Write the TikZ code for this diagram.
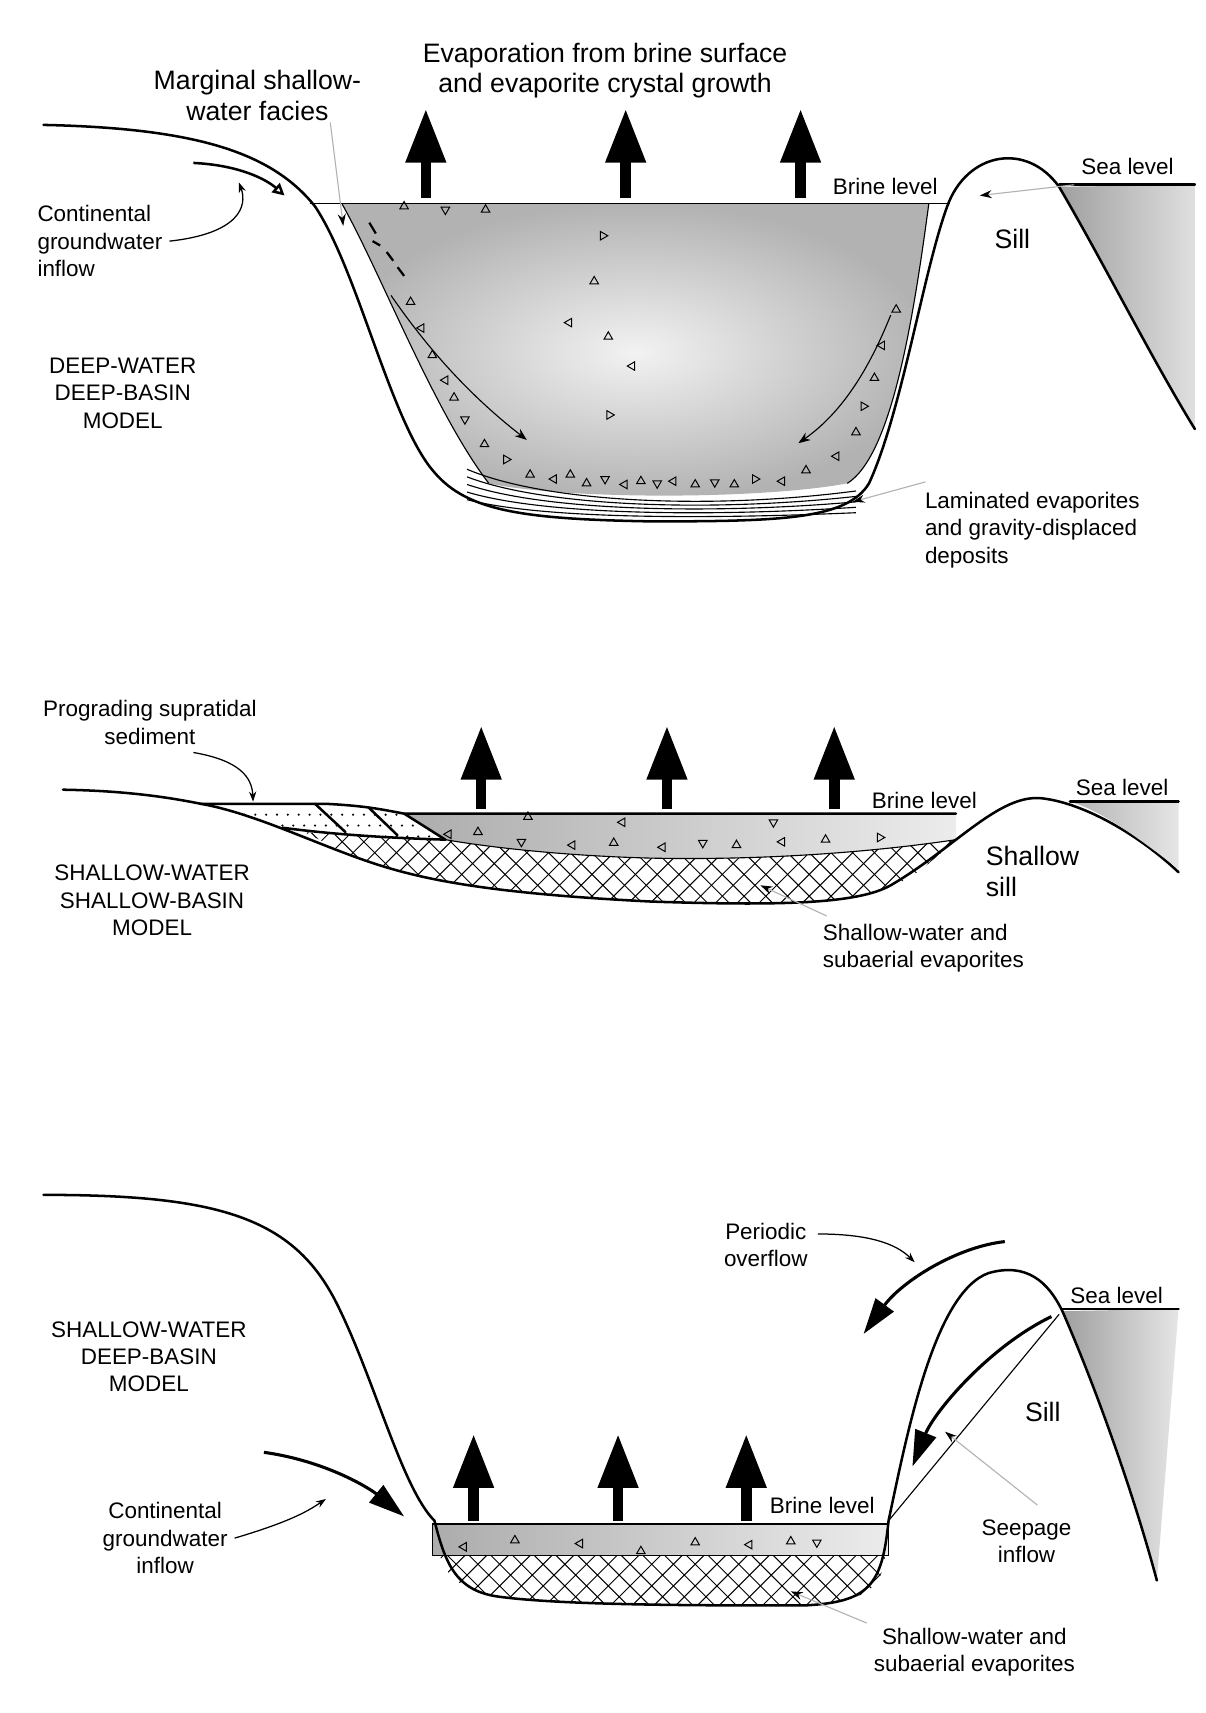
\documentclass[tikz,border=0pt]{standalone}
\usepackage{fontspec}
\setmainfont{Liberation Sans}
\usetikzlibrary{arrows.meta,shapes.geometric,calc}
\tikzset{
  lbl/.style={font=\fontsize{16}{19.5}\selectfont, align=center, inner sep=1pt},
  lbll/.style={lbl, align=left, anchor=west},
  big/.style={font=\fontsize{19}{22}\selectfont, align=center, inner sep=1pt},
  ground/.style={line width=1.8pt, line cap=round},
  thin/.style={line width=0.8pt},
  evap/.style={line width=7.5pt, -{Triangle[length=1.35cm,width=0.95cm]}},
  flow/.style={line width=2.2pt, -{Triangle[length=0.6cm,width=0.42cm]}},
  small/.style={line width=0.9pt, -{Stealth[length=2.5mm,width=1.8mm]}},
  pointer/.style={draw=gray!60, line width=0.8pt},
  tri/.style={regular polygon, regular polygon sides=3, draw, line width=0.7pt,
    inner sep=0pt, minimum size=7pt},
  hatch/.style={line width=0.7pt},
}
\begin{document}
\begin{tikzpicture}[x=0.0272cm, y=-0.0272cm]
  \useasboundingbox (0,0) rectangle (1110,1577);

  % ---------- deep-water deep-basin ----------
  \shade[inner color=gray!10, outer color=gray!60]
    (315,188) -- (855,188) .. controls (840,300) and (820,420) .. (780,445)
    .. controls (700,460) and (520,460) .. (450,445)
    .. controls (400,380) and (350,250) .. (315,188) -- cycle;
  \draw[thin] (315,188) .. controls (350,250) and (400,380) .. (450,445);
  \draw[thin] (855,188) .. controls (840,300) and (820,420) .. (780,445);
  \draw[thin] (285,187) -- (875,187);
  \foreach \i in {0,...,4}
    \draw[thin] (430,{432+\i*7}) .. controls (500,{462+\i*4}) and (650,{470+\i*2}) .. (788,{452+\i*5});
  \shade[left color=gray!75, right color=gray!25]
    (975,172) -- (1100,170) -- (1100,395)
    .. controls (1060,330) and (1015,240) .. (975,172) -- cycle;
  \draw[ground] (40,115) .. controls (180,118) and (250,140) .. (290,190)
    .. controls (330,250) and (360,390) .. (400,435)
    .. controls (430,470) and (480,478) .. (600,480)
    .. controls (720,480) and (780,478) .. (800,445)
    .. controls (830,380) and (850,250) .. (872,190)
    .. controls (890,140) and (945,130) .. (975,172)
    .. controls (1015,240) and (1060,330) .. (1100,395);
  \draw[ground] (975,170) -- (1100,170);
  \foreach \x/\y/\r in {372/190/0,410/193/180,447/193/0,555/217/30,547/259/0,
    524/297/90,560/310/0,582/337/90,561/382/30,378/278/0,388/302/90,
    398/327/0,410/350/90,418/366/0,428/386/180,446/409/0,466/423/30,
    488/437/0,510/441/90,525/437/0,540/445/0,557/441/180,575/446/90,
    590/443/0,605/445/180,620/443/90,640/446/0,658/444/180,676/446/0,
    695/441/30,720/443/90,742/433/0,770/420/90,788/398/0,795/374/30,
    805/348/0,812/318/90,825/285/0}
    \node[tri, rotate=\r] at (\x,\y) {};
  \foreach \xa/\ya/\xb/\yb in {340/205/346/215,356/232/362/240,366/246/372/254,343/222/350/226}
    \draw[line width=1.6pt] (\xa,\ya) -- (\xb,\yb);
  \draw[thin, -{Stealth[length=3mm]}] (360,272) .. controls (400,330) and (440,370) .. (485,405);
  \draw[thin, -{Stealth[length=3mm]}] (820,290) .. controls (800,340) and (775,380) .. (735,408);
  \foreach \x in {392,576,737}
    \draw[evap] (\x,182) -- (\x,100);
  \node[big] (evtxt) at (557,65) {Evaporation from brine surface\\and evaporite crystal growth};
  \node[big] (margtxt) at (237,88) {Marginal shallow-\\water facies};
  \node[lbll] (cgw1) at (33,222) {Continental\\groundwater\\inflow};
  \node[lbl] (mod1) at (113,362) {DEEP-WATER\\DEEP-BASIN\\MODEL};
  \node[lbl] (brine1) at (815,172) {Brine level};
  \node[lbl] (sea1) at (1038,153) {Sea level};
  \node[big] (sill1) at (932,220) {Sill};
  \node[lbll] (lam1) at (850,488) {Laminated evaporites\\and gravity-displaced\\deposits};
  \coordinate (cgwin1) at (178,150);
  \coordinate (cgwend1) at (262,180);
  \draw[line width=1.8pt, -{Triangle[open,length=3mm,width=3mm]}] (cgwin1) .. controls (220,152) and (245,165) .. (cgwend1);
  \draw[small] (cgw1.east) ++(5,0) .. controls (220,215) and (228,190) .. (220,168);
  \coordinate (margend) at (316,208);
  \draw[pointer, -{Stealth[length=3mm,width=2mm,color=black]}] (margtxt.south east) ++(-30,0) -- (margend);
  \coordinate (brineend1) at (902,180);
  \draw[pointer, -{Stealth[length=3mm,width=2mm,color=black]}] (sea1.south west) ++(-5,8) -- (brineend1);
  \coordinate (lamend) at (785,462);
  \draw[pointer, -{Stealth[length=3mm,width=2mm,color=black]}] (lam1.north west) ++(2,-8) -- (lamend);

  % ---------- shallow-water shallow-basin ----------
  \shade[left color=gray!65, right color=gray!15]
    (372,749) -- (880,749) -- (880,773) .. controls (800,785) and (700,792) .. (600,790)
    .. controls (520,788) and (450,780) .. (410,773) -- cycle;
  \begin{scope}
    \clip (280,766) .. controls (330,770) and (380,772) .. (410,773)
      .. controls (450,780) and (520,788) .. (600,790)
      .. controls (700,792) and (800,785) .. (880,773)
      .. controls (850,800) and (835,812) .. (820,815)
      .. controls (790,832) and (720,834) .. (600,830)
      .. controls (440,822) and (380,808) .. (330,790)
      .. controls (310,782) and (295,773) .. (280,766) -- cycle;
    \foreach \i in {0,...,40}
      \draw[hatch] ({200+\i*20},700) -- ({350+\i*20},850)
                   ({350+\i*20},700) -- ({200+\i*20},850);
  \end{scope}
  \begin{scope}
    \clip (185,740) -- (300,740) .. controls (340,742) and (355,746) .. (372,749)
      -- (410,773) .. controls (360,772) and (300,768) .. (260,762)
      .. controls (230,755) and (210,745) .. (185,740) -- cycle;
    \foreach \x in {180,190,...,420}
      \foreach \y in {740,750,...,775}
        \fill ({\x+mod(\y,20)/2},\y) circle (1.1);
  \end{scope}
  \draw[ground] (58,727) .. controls (120,728) and (160,735) .. (185,740)
    .. controls (230,748) and (280,772) .. (330,790)
    .. controls (380,808) and (440,822) .. (600,830)
    .. controls (720,834) and (790,832) .. (820,815)
    .. controls (880,780) and (920,730) .. (960,735)
    .. controls (1000,740) and (1050,770) .. (1085,803);
  \draw[ground] (185,740) -- (300,740) .. controls (340,742) and (355,746) .. (372,749) -- (880,749);
  \draw[ground] (260,762) .. controls (320,770) and (380,772) .. (410,773);
  \draw[thin] (410,773) .. controls (450,780) and (520,788) .. (600,790)
    .. controls (700,792) and (800,785) .. (880,773);
  \draw[ground] (290,740) -- (318,766);
  \draw[ground] (340,744) -- (366,769);
  \draw[ground] (372,749) -- (410,773);
  \shade[left color=gray!60, right color=gray!20]
    (985,738) -- (1085,738) -- (1085,800) .. controls (1040,765) and (1010,745) .. (985,738) -- cycle;
  \draw[ground] (985,738) -- (1085,738);
  \foreach \x/\y/\r in {486/752/0,573/757/90,712/757/180,413/768/90,440/766/0,
    480/775/180,527/778/90,565/776/0,610/780/90,647/776/180,678/778/0,
    720/775/90,760/773/0,810/771/30}
    \node[tri, rotate=\r] at (\x,\y) {};
  \foreach \x in {443,614,768}
    \draw[evap] (\x,745) -- (\x,668);
  \node[lbl] (prog) at (138,665) {Prograding supratidal\\sediment};
  \node[lbl] (mod2) at (140,829) {SHALLOW-WATER\\SHALLOW-BASIN\\MODEL};
  \node[lbl] (brine2) at (851,737) {Brine level};
  \node[lbl] (sea2) at (1033,725) {Sea level};
  \node[big, align=left, anchor=west] (sill2) at (906,802) {Shallow\\sill};
  \node[lbll] (sw2) at (756,873) {Shallow-water and\\subaerial evaporites};
  \coordinate (progend) at (233,738);
  \draw[small] (prog.south) ++(40,6) .. controls (220,700) and (232,715) .. (progend);
  \coordinate (swend2) at (700,815);
  \draw[pointer, -{Stealth[length=3mm,width=2mm,color=black]}] (sw2.north west) ++(5,-6) -- (swend2);

  % ---------- shallow-water deep-basin ----------
  \shade[left color=gray!65, right color=gray!15] (398,1403) rectangle (818,1432);
  \begin{scope}
    \clip (405,1432) -- (815,1432) .. controls (812,1460) and (800,1475) .. (740,1478)
      .. controls (650,1478) and (520,1478) .. (460,1470)
      .. controls (425,1465) and (410,1450) .. (405,1432) -- cycle;
    \foreach \i in {0,...,26}
      \draw[hatch] ({300+\i*20},1400) -- ({400+\i*20},1500)
                   ({400+\i*20},1400) -- ({300+\i*20},1500);
  \end{scope}
  \draw[thin] (398,1403) rectangle (818,1432);
  \shade[left color=gray!75, right color=gray!20]
    (978,1207) -- (1085,1205) -- (1065,1455) .. controls (1045,1380) and (1010,1280) .. (978,1207) -- cycle;
  \draw[ground] (40,1100) .. controls (200,1100) and (270,1120) .. (310,1200)
    .. controls (345,1270) and (370,1370) .. (400,1400)
    .. controls (410,1440) and (420,1465) .. (460,1470)
    .. controls (520,1478) and (650,1478) .. (740,1478)
    .. controls (800,1475) and (812,1460) .. (818,1400)
    .. controls (835,1320) and (860,1190) .. (910,1172)
    .. controls (945,1162) and (965,1180) .. (978,1207)
    .. controls (1010,1280) and (1045,1380) .. (1065,1455);
  \draw[ground] (978,1205) -- (1085,1205);
  \coordinate (sillfoot) at (818,1400);
  \coordinate (sillcrest) at (975,1210);
  \draw[thin] (sillfoot) -- (sillcrest);
  \foreach \x/\y/\r in {427/1424/90,474/1418/0,534/1421/90,590/1428/0,
    640/1420/0,690/1422/90,728/1419/0,752/1420/180}
    \node[tri, rotate=\r] at (\x,\y) {};
  \foreach \x in {436,569,687}
    \draw[evap] (\x,1400) -- (\x,1320);
  \node[lbl] (mod3) at (137,1249) {SHALLOW-WATER\\DEEP-BASIN\\MODEL};
  \node[lbl] (peri) at (705,1146) {Periodic\\overflow};
  \node[lbl] (sea3) at (1028,1193) {Sea level};
  \node[big] (sill3) at (960,1300) {Sill};
  \node[lbl] (cgw3) at (152,1416) {Continental\\groundwater\\inflow};
  \node[lbl] (brine3) at (757,1386) {Brine level};
  \node[lbl] (seep) at (945,1419) {Seepage\\inflow};
  \node[lbl] (sw3) at (897,1521) {Shallow-water and\\subaerial evaporites};
  \coordinate (ovstart) at (925,1143);
  \coordinate (ovend) at (795,1228);
  \draw[flow, -{Triangle[length=0.9cm,width=0.55cm]}] (ovstart) .. controls (880,1148) and (830,1180) .. (ovend);
  \coordinate (sgstart) at (968,1212);
  \coordinate (sgend) at (840,1350);
  \draw[flow, -{Triangle[length=0.9cm,width=0.55cm]}] (sgstart) .. controls (910,1240) and (860,1300) .. (sgend);
  \coordinate (cgwin3) at (243,1337);
  \coordinate (cgwend3) at (372,1396);
  \draw[flow, -{Triangle[length=0.9cm,width=0.55cm]}] (cgwin3) .. controls (300,1345) and (340,1370) .. (cgwend3);
  \draw[small] (cgw3.east) ++(5,0) .. controls (270,1400) and (285,1390) .. (300,1380);
  \draw[small] (peri.east) ++(8,-10) .. controls (800,1136) and (825,1145) .. (842,1162);
  \coordinate (seepend) at (870,1318);
  \draw[pointer, -{Stealth[length=3mm,width=2mm,color=black]}] (seep.north) ++(10,-12) -- (seepend);
  \coordinate (swend3) at (728,1465);
  \draw[pointer, -{Stealth[length=3mm,width=2mm,color=black]}] (sw3.north west) ++(-5,-3) -- (swend3);
\end{tikzpicture}
\end{document}
